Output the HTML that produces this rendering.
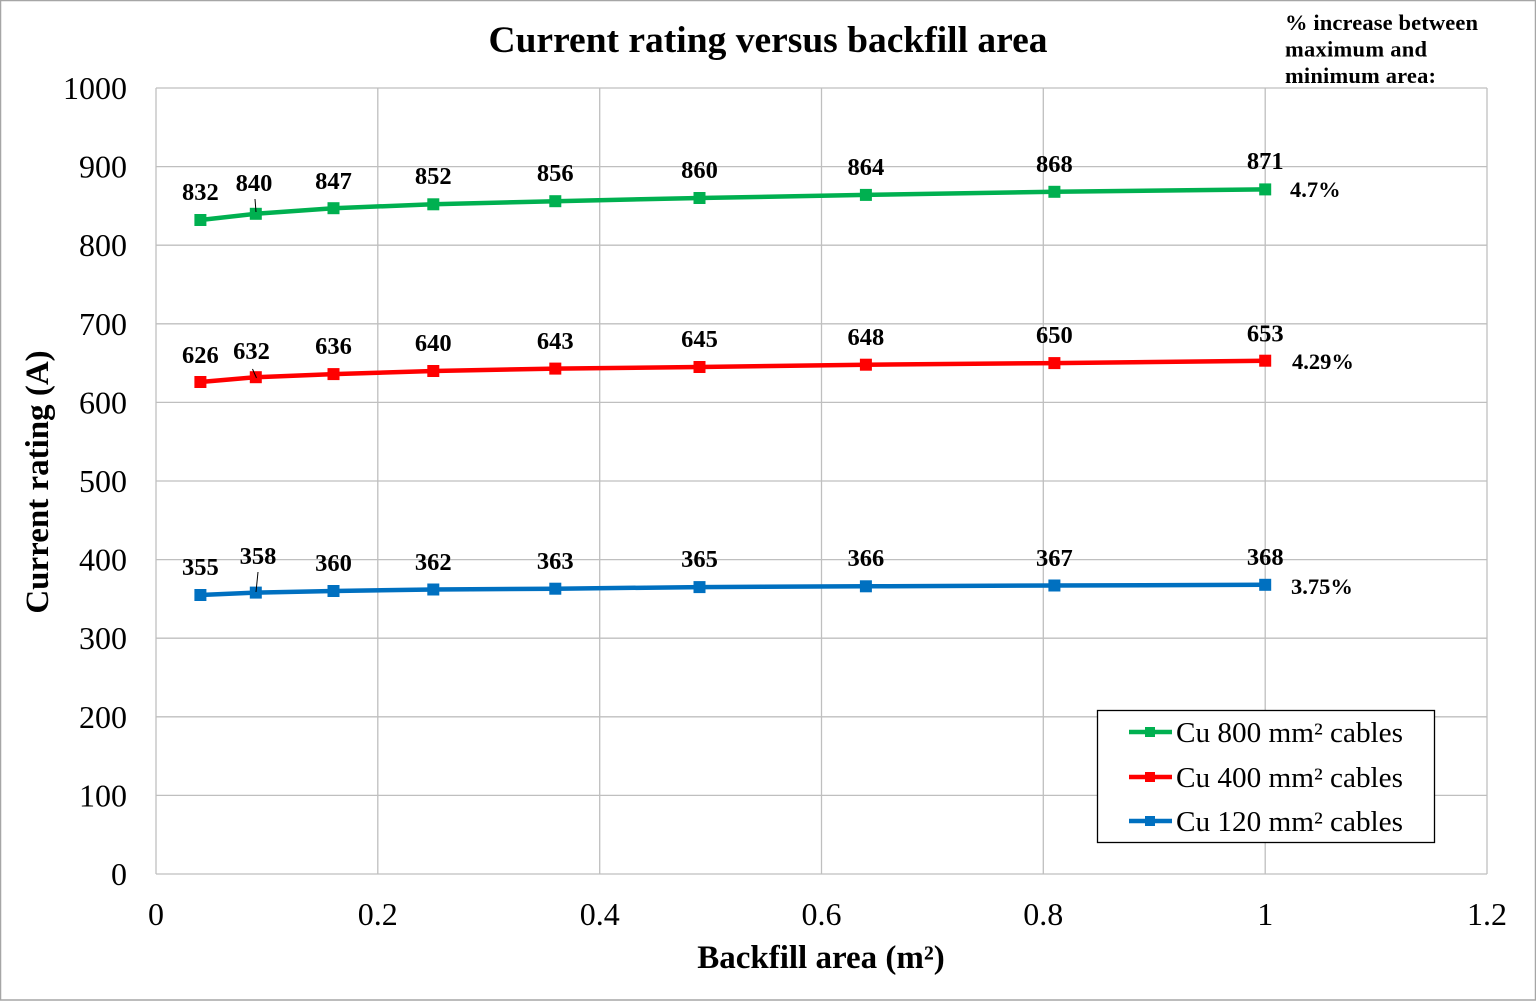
<!DOCTYPE html>
<html><head><meta charset="utf-8"><style>
html,body{margin:0;padding:0;background:#fff;}
svg{display:block;}
text{font-family:"Liberation Serif","Times New Roman",serif;fill:#000;}
</style></head><body>
<svg width="1536" height="1001" viewBox="0 0 1536 1001" xmlns="http://www.w3.org/2000/svg">
<rect x="0.5" y="0.5" width="1535" height="999.5" fill="#fff" stroke="#a6a6a6" stroke-width="1.5"/>
<!-- gridlines -->
<g stroke="#bfbfbf" stroke-width="1.3" fill="none">
<line x1="156" y1="88" x2="1487" y2="88"/>
<line x1="156" y1="166.6" x2="1487" y2="166.6"/>
<line x1="156" y1="245.2" x2="1487" y2="245.2"/>
<line x1="156" y1="323.8" x2="1487" y2="323.8"/>
<line x1="156" y1="402.4" x2="1487" y2="402.4"/>
<line x1="156" y1="481" x2="1487" y2="481"/>
<line x1="156" y1="559.6" x2="1487" y2="559.6"/>
<line x1="156" y1="638.2" x2="1487" y2="638.2"/>
<line x1="156" y1="716.8" x2="1487" y2="716.8"/>
<line x1="156" y1="795.4" x2="1487" y2="795.4"/>
<line x1="156" y1="874" x2="1487" y2="874"/>
<line x1="156" y1="88" x2="156" y2="874"/>
<line x1="377.8" y1="88" x2="377.8" y2="874"/>
<line x1="599.7" y1="88" x2="599.7" y2="874"/>
<line x1="821.5" y1="88" x2="821.5" y2="874"/>
<line x1="1043.3" y1="88" x2="1043.3" y2="874"/>
<line x1="1265.2" y1="88" x2="1265.2" y2="874"/>
<line x1="1487" y1="88" x2="1487" y2="874"/>
</g>
<!-- title -->
<text x="768" y="52" font-size="37.5" font-weight="bold" text-anchor="middle">Current rating versus backfill area</text>
<!-- header note -->
<g font-size="22.5" font-weight="bold">
<text x="1285" y="30" textLength="193" lengthAdjust="spacing">% increase between</text>
<text x="1285" y="56.5" textLength="142" lengthAdjust="spacing">maximum and</text>
<text x="1285" y="83" textLength="151" lengthAdjust="spacing">minimum area:</text>
</g>
<!-- y tick labels -->
<g font-size="32" text-anchor="end">
<text x="127" y="99">1000</text>
<text x="127" y="177.6">900</text>
<text x="127" y="256.2">800</text>
<text x="127" y="334.8">700</text>
<text x="127" y="413.4">600</text>
<text x="127" y="492">500</text>
<text x="127" y="570.6">400</text>
<text x="127" y="649.2">300</text>
<text x="127" y="727.8">200</text>
<text x="127" y="806.4">100</text>
<text x="127" y="885">0</text>
</g>
<!-- x tick labels -->
<g font-size="32" text-anchor="middle">
<text x="156" y="925">0</text>
<text x="377.8" y="925">0.2</text>
<text x="599.7" y="925">0.4</text>
<text x="821.5" y="925">0.6</text>
<text x="1043.3" y="925">0.8</text>
<text x="1265.2" y="925">1</text>
<text x="1487" y="925">1.2</text>
</g>
<!-- axis titles -->
<text x="821" y="968" font-size="33" font-weight="bold" text-anchor="middle">Backfill area (m²)</text>
<text transform="translate(48,482) rotate(-90)" font-size="33" font-weight="bold" text-anchor="middle">Current rating (A)</text>
<!-- series -->
<g fill="none" stroke-width="4.5" stroke-linejoin="round">
<polyline stroke="#00b050" points="200.4,220 255.8,213.8 333.5,208.2 433.3,204.3 555.3,201.2 699.5,198 865.9,194.9 1054.4,191.8 1265.2,189.4"/>
<polyline stroke="#ff0000" points="200.4,382 255.8,377.2 333.5,374.1 433.3,371 555.3,368.6 699.5,367 865.9,364.7 1054.4,363.1 1265.2,360.7"/>
<polyline stroke="#0070c0" points="200.4,595 255.8,592.6 333.5,591 433.3,589.5 555.3,588.7 699.5,587.1 865.9,586.3 1054.4,585.5 1265.2,584.8"/>
</g>
<g fill="#00b050">
<rect x="194.4" y="214" width="12" height="12"/><rect x="249.8" y="207.8" width="12" height="12"/><rect x="327.5" y="202.2" width="12" height="12"/><rect x="427.3" y="198.3" width="12" height="12"/><rect x="549.3" y="195.2" width="12" height="12"/><rect x="693.5" y="192" width="12" height="12"/><rect x="859.9" y="188.9" width="12" height="12"/><rect x="1048.4" y="185.8" width="12" height="12"/><rect x="1259.2" y="183.4" width="12" height="12"/>
</g>
<g fill="#ff0000">
<rect x="194.4" y="376" width="12" height="12"/><rect x="249.8" y="371.2" width="12" height="12"/><rect x="327.5" y="368.1" width="12" height="12"/><rect x="427.3" y="365" width="12" height="12"/><rect x="549.3" y="362.6" width="12" height="12"/><rect x="693.5" y="361" width="12" height="12"/><rect x="859.9" y="358.7" width="12" height="12"/><rect x="1048.4" y="357.1" width="12" height="12"/><rect x="1259.2" y="354.7" width="12" height="12"/>
</g>
<g fill="#0070c0">
<rect x="194.4" y="589" width="12" height="12"/><rect x="249.8" y="586.6" width="12" height="12"/><rect x="327.5" y="585" width="12" height="12"/><rect x="427.3" y="583.5" width="12" height="12"/><rect x="549.3" y="582.7" width="12" height="12"/><rect x="693.5" y="581.1" width="12" height="12"/><rect x="859.9" y="580.3" width="12" height="12"/><rect x="1048.4" y="579.5" width="12" height="12"/><rect x="1259.2" y="578.8" width="12" height="12"/>
</g>
<!-- leader lines -->
<g stroke="#000" stroke-width="1">
<line x1="255" y1="199" x2="256" y2="212"/>
<line x1="252.5" y1="369" x2="256.5" y2="378"/>
<line x1="258" y1="572" x2="256" y2="592"/>
</g>
<!-- data labels -->
<g font-size="24.5" font-weight="bold" text-anchor="middle">
<text x="200.4" y="200">832</text>
<text x="254" y="191">840</text>
<text x="333.5" y="189">847</text>
<text x="433.3" y="184">852</text>
<text x="555.3" y="181">856</text>
<text x="699.5" y="178">860</text>
<text x="865.9" y="175">864</text>
<text x="1054.4" y="172">868</text>
<text x="1265.2" y="169">871</text>

<text x="200.4" y="363">626</text>
<text x="251.5" y="359">632</text>
<text x="333.5" y="354">636</text>
<text x="433.3" y="351">640</text>
<text x="555.3" y="349">643</text>
<text x="699.5" y="347">645</text>
<text x="865.9" y="345">648</text>
<text x="1054.4" y="343">650</text>
<text x="1265.2" y="341.5">653</text>

<text x="200.4" y="575">355</text>
<text x="258" y="564">358</text>
<text x="333.5" y="571">360</text>
<text x="433.3" y="570">362</text>
<text x="555.3" y="569">363</text>
<text x="699.5" y="567">365</text>
<text x="865.9" y="566">366</text>
<text x="1054.4" y="566">367</text>
<text x="1265.2" y="565">368</text>
</g>
<!-- % labels -->
<g font-size="22.5" font-weight="bold">
<text x="1290" y="197">4.7%</text>
<text x="1292" y="369">4.29%</text>
<text x="1291" y="594">3.75%</text>
</g>
<!-- legend -->
<rect x="1097.5" y="710.5" width="337" height="132" fill="#fff" stroke="#000" stroke-width="1.3"/>
<g stroke-width="4.5">
<line x1="1129" y1="732" x2="1172" y2="732" stroke="#00b050"/>
<line x1="1129" y1="777" x2="1172" y2="777" stroke="#ff0000"/>
<line x1="1129" y1="821" x2="1172" y2="821" stroke="#0070c0"/>
</g>
<rect x="1145" y="727" width="10" height="10" fill="#00b050"/>
<rect x="1145" y="772" width="10" height="10" fill="#ff0000"/>
<rect x="1145" y="816" width="10" height="10" fill="#0070c0"/>
<g font-size="28">
<text x="1176" y="742" textLength="227" lengthAdjust="spacingAndGlyphs">Cu 800 mm² cables</text>
<text x="1176" y="787" textLength="227" lengthAdjust="spacingAndGlyphs">Cu 400 mm² cables</text>
<text x="1176" y="831" textLength="227" lengthAdjust="spacingAndGlyphs">Cu 120 mm² cables</text>
</g>
</svg>
</body></html>
